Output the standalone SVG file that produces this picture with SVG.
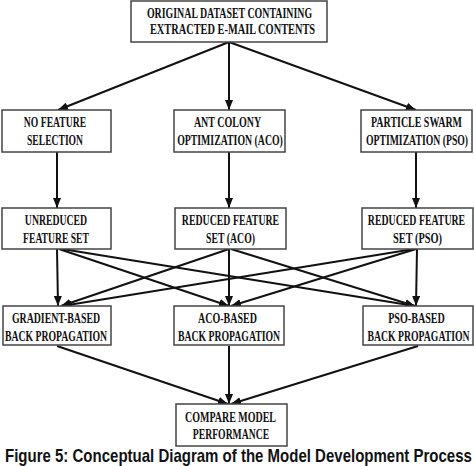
<svg xmlns="http://www.w3.org/2000/svg" width="474" height="466" viewBox="0 0 474 466">
<defs>
<style>
.box{fill:#fff;stroke:#444;stroke-width:1.5}
.t{font-family:"Liberation Serif","Times New Roman",serif;font-weight:bold;font-size:14px;fill:#111;text-anchor:middle}
.c{stroke:#111;stroke-width:2;fill:none;marker-end:url(#ah)}
.cap{font-family:"Liberation Sans",Arial,sans-serif;font-weight:bold;font-size:17.5px;fill:#111}
</style>
<marker id="ah" markerUnits="userSpaceOnUse" markerWidth="10" markerHeight="8" refX="10" refY="4" orient="auto">
<path d="M0,0 L10,4 L0,8 z" fill="#111"/>
</marker>
</defs>
<rect width="474" height="466" fill="#fff"/>
<g id="connectors">
<line class="c" x1="229" y1="42" x2="58" y2="110"/>
<line class="c" x1="229" y1="42" x2="229" y2="110"/>
<line class="c" x1="229" y1="42" x2="416" y2="110"/>
<line class="c" x1="57" y1="152" x2="57" y2="208"/>
<line class="c" x1="229" y1="152" x2="229" y2="208"/>
<line class="c" x1="416" y1="152" x2="416" y2="208"/>
<line class="c" x1="57" y1="249" x2="58" y2="306"/>
<line class="c" x1="59" y1="249" x2="229" y2="306"/>
<line class="c" x1="62" y1="249" x2="415" y2="306"/>
<line class="c" x1="229" y1="249" x2="61" y2="306"/>
<line class="c" x1="229" y1="249" x2="229" y2="306"/>
<line class="c" x1="231" y1="249" x2="415" y2="306"/>
<line class="c" x1="414" y1="249" x2="62" y2="306"/>
<line class="c" x1="416" y1="249" x2="231" y2="306"/>
<line class="c" x1="417" y1="249" x2="416" y2="306"/>
<line class="c" x1="57" y1="346" x2="228" y2="404"/>
<line class="c" x1="229" y1="346" x2="229" y2="404"/>
<line class="c" x1="418" y1="346" x2="231" y2="404"/>
</g>
<g id="n_original">
<rect class="box" x="131" y="1" width="196" height="41"/>
<text class="t" transform="translate(229.5,18) scale(0.7,1)" textLength="236" lengthAdjust="spacingAndGlyphs">ORIGINAL DATASET CONTAINING</text>
<text class="t" transform="translate(232.5,34) scale(0.7,1)" textLength="236" lengthAdjust="spacingAndGlyphs">EXTRACTED E-MAIL CONTENTS</text>
</g>
<g id="n_nofs">
<rect class="box" x="2" y="110" width="109" height="42"/>
<text class="t" transform="translate(55,127) scale(0.7,1)" textLength="89" lengthAdjust="spacingAndGlyphs">NO FEATURE</text>
<text class="t" transform="translate(55,145) scale(0.7,1)" textLength="80" lengthAdjust="spacingAndGlyphs">SELECTION</text>
</g>
<g id="n_aco">
<rect class="box" x="174" y="110" width="111" height="42"/>
<text class="t" transform="translate(227.5,127) scale(0.7,1)" textLength="96" lengthAdjust="spacingAndGlyphs">ANT COLONY</text>
<text class="t" transform="translate(230,145) scale(0.7,1)" textLength="151" lengthAdjust="spacingAndGlyphs">OPTIMIZATION (ACO)</text>
</g>
<g id="n_pso">
<rect class="box" x="361" y="110" width="111" height="42"/>
<text class="t" transform="translate(416.5,127) scale(0.7,1)" textLength="130" lengthAdjust="spacingAndGlyphs">PARTICLE SWARM</text>
<text class="t" transform="translate(417,145) scale(0.7,1)" textLength="146" lengthAdjust="spacingAndGlyphs">OPTIMIZATION (PSO)</text>
</g>
<g id="n_unreduced">
<rect class="box" x="2" y="208" width="109" height="41"/>
<text class="t" transform="translate(56,225) scale(0.7,1)" textLength="89" lengthAdjust="spacingAndGlyphs">UNREDUCED</text>
<text class="t" transform="translate(56,243) scale(0.7,1)" textLength="94" lengthAdjust="spacingAndGlyphs">FEATURE SET</text>
</g>
<g id="n_redaco">
<rect class="box" x="175" y="208" width="111" height="41"/>
<text class="t" transform="translate(230.5,225) scale(0.7,1)" textLength="139" lengthAdjust="spacingAndGlyphs">REDUCED FEATURE</text>
<text class="t" transform="translate(230.5,243) scale(0.7,1)" textLength="70" lengthAdjust="spacingAndGlyphs">SET (ACO)</text>
</g>
<g id="n_redpso">
<rect class="box" x="362" y="208" width="111" height="41"/>
<text class="t" transform="translate(416.5,225) scale(0.7,1)" textLength="139" lengthAdjust="spacingAndGlyphs">REDUCED FEATURE</text>
<text class="t" transform="translate(417.5,243) scale(0.7,1)" textLength="70" lengthAdjust="spacingAndGlyphs">SET (PSO)</text>
</g>
<g id="n_gbp">
<rect class="box" x="3" y="306" width="108" height="39"/>
<text class="t" transform="translate(56,323) scale(0.7,1)" textLength="126" lengthAdjust="spacingAndGlyphs">GRADIENT-BASED</text>
<text class="t" transform="translate(56,341) scale(0.7,1)" textLength="146" lengthAdjust="spacingAndGlyphs">BACK PROPAGATION</text>
</g>
<g id="n_acobp">
<rect class="box" x="174" y="306" width="110" height="39"/>
<text class="t" transform="translate(227.5,323) scale(0.7,1)" textLength="84" lengthAdjust="spacingAndGlyphs">ACO-BASED</text>
<text class="t" transform="translate(229,341) scale(0.7,1)" textLength="146" lengthAdjust="spacingAndGlyphs">BACK PROPAGATION</text>
</g>
<g id="n_psobp">
<rect class="box" x="363" y="306" width="110" height="39"/>
<text class="t" transform="translate(416.5,323) scale(0.7,1)" textLength="81" lengthAdjust="spacingAndGlyphs">PSO-BASED</text>
<text class="t" transform="translate(418.5,341) scale(0.7,1)" textLength="146" lengthAdjust="spacingAndGlyphs">BACK PROPAGATION</text>
</g>
<g id="n_compare">
<rect class="box" x="176" y="404" width="111" height="42"/>
<text class="t" transform="translate(230.5,422) scale(0.7,1)" textLength="130" lengthAdjust="spacingAndGlyphs">COMPARE MODEL</text>
<text class="t" transform="translate(231,439) scale(0.7,1)" textLength="109" lengthAdjust="spacingAndGlyphs">PERFORMANCE</text>
</g>
<text class="cap" transform="translate(5,461.5) scale(0.7,1)" textLength="667" lengthAdjust="spacingAndGlyphs">Figure 5: Conceptual Diagram of the Model Development Process</text>
</svg>
